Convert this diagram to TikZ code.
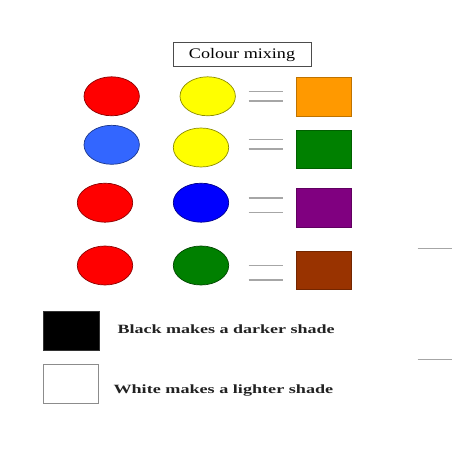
\documentclass[tikz,border=0pt]{standalone}
\usepackage{fontspec}
\setmainfont{Liberation Serif}
\usetikzlibrary{shapes.geometric}
\definecolor{cRed}{HTML}{FF0000}
\definecolor{cYellow}{HTML}{FFFF00}
\definecolor{cLightBlue}{HTML}{3366FF}
\definecolor{cBlue}{HTML}{0000FF}
\definecolor{cGreen}{HTML}{008000}
\definecolor{cOrange}{HTML}{FF9900}
\definecolor{cPurple}{HTML}{800080}
\definecolor{cBrown}{HTML}{993300}
\definecolor{cLine}{HTML}{A6A6A6}
\definecolor{cText}{HTML}{222222}
\tikzset{
  blob/.style={ellipse, minimum width=55.4pt, minimum height=39pt, inner sep=0pt, line width=0.7pt, fill=#1, draw=#1!55!black},
  swatch/.style={rectangle, minimum width=55.7pt, minimum height=38.7pt, inner sep=0pt, line width=0.8pt, fill=#1, draw=#1!75!black},
  eqline/.style={draw=cLine, line width=1.1pt},
  caption/.style={font=\bfseries\fontsize{12.6}{14}\selectfont, text=cText, inner sep=0pt, anchor=base west},
}
\begin{document}
\begin{tikzpicture}[x=1pt,y=-1pt]
\useasboundingbox[fill=white] (0,0) rectangle (452,452);
% title
\node[draw=black!70, line width=0.6pt, minimum width=138pt, minimum height=24.5pt, inner sep=0pt] (title) at (242,54.5) {};
\node[font=\fontsize{14.6}{16}\selectfont, inner sep=0pt, anchor=base] (titletxt) at (242,59) {\scalebox{1.24}[1]{Colour mixing}};
% row 1
\node[blob=cRed] (r1a) at (111.7,96.3) {};
\node[blob=cYellow] (r1b) at (207.7,96.3) {};
\node[swatch=cOrange] (r1c) at (323.8,96.7) {};
% row 2
\node[blob=cLightBlue] (r2a) at (111.7,144.8) {};
\node[blob=cYellow] (r2b) at (201,147.5) {};
\node[swatch=cGreen] (r2c) at (323.8,149.3) {};
% row 3
\node[blob=cRed] (r3a) at (105,202.7) {};
\node[blob=cBlue] (r3b) at (201,202.7) {};
\node[swatch=cPurple] (r3c) at (323.8,207.7) {};
% row 4
\node[blob=cRed] (r4a) at (105,265.5) {};
\node[blob=cGreen] (r4b) at (201,265.5) {};
\node[swatch=cBrown] (r4c) at (323.8,270.3) {};
% equals lines
\coordinate (e1l) at (248.7,91.7);  \coordinate (e1r) at (282.7,91.7);
\coordinate (e2l) at (248.7,101);   \coordinate (e2r) at (282.7,101);
\coordinate (e3l) at (248.7,139.3); \coordinate (e3r) at (282.7,139.3);
\coordinate (e4l) at (248.7,149);   \coordinate (e4r) at (282.7,149);
\coordinate (e5l) at (248.7,198);   \coordinate (e5r) at (282.7,198);
\coordinate (e6l) at (248.7,212.3); \coordinate (e6r) at (282.7,212.3);
\coordinate (e7l) at (248.7,265.7); \coordinate (e7r) at (282.7,265.7);
\coordinate (e8l) at (248.7,280);   \coordinate (e8r) at (282.7,280);
\draw[eqline] (e1l) -- (e1r); \draw[eqline] (e2l) -- (e2r);
\draw[eqline] (e3l) -- (e3r); \draw[eqline] (e4l) -- (e4r);
\draw[eqline] (e5l) -- (e5r); \draw[eqline] (e6l) -- (e6r);
\draw[eqline] (e7l) -- (e7r); \draw[eqline] (e8l) -- (e8r);
% right edge lines
\coordinate (s1l) at (417.7,248.3); \coordinate (s1r) at (452,248.3);
\coordinate (s2l) at (417.7,359);   \coordinate (s2r) at (452,359);
\draw[eqline, line width=0.9pt] (s1l) -- (s1r);
\draw[eqline, line width=0.9pt] (s2l) -- (s2r);
% shades
\node[rectangle, minimum width=55.4pt, minimum height=39pt, inner sep=0pt, fill=black, draw=black!80] (black) at (71,330.8) {};
\node[rectangle, minimum width=55.4pt, minimum height=39.4pt, inner sep=0pt, fill=white, draw=black!45, line width=0.8pt] (white) at (71,384) {};
\node[caption] (blacktxt) at (117.3,333.5) {\scalebox{1.43}[1]{Black makes a darker shade}};
\node[caption] (whitetxt) at (113.3,393) {\scalebox{1.44}[1]{White makes a lighter shade}};
\end{tikzpicture}
\end{document}
